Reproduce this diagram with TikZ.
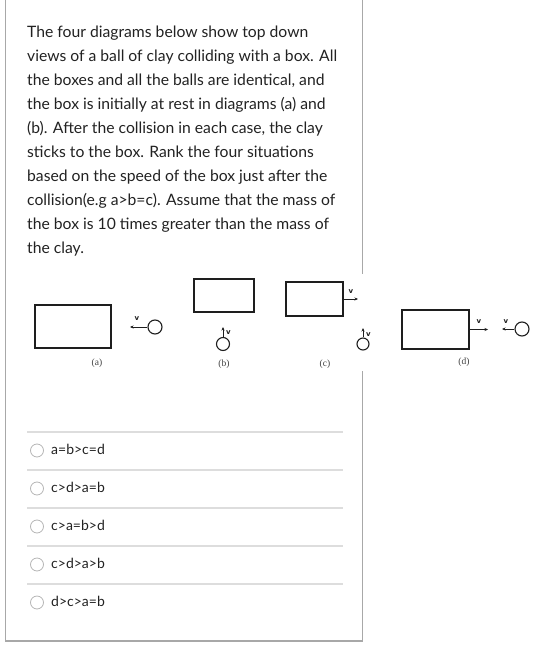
\documentclass[tikz,border=0pt]{standalone}
\usepackage{fontspec}
\setmainfont{Lato}
\newfontfamily\serifcap{Liberation Serif}
\newfontfamily\vfont{DejaVu Sans}
\usetikzlibrary{arrows.meta}
\definecolor{textc}{HTML}{222222}
\definecolor{ink}{HTML}{1E1E1E}
\definecolor{sepc}{HTML}{DDDDDD}
\definecolor{radioc}{HTML}{B5B5B5}
\definecolor{framec}{HTML}{A8A8A8}
\begin{document}
\begin{tikzpicture}[x=1pt,y=-1pt,
  txt/.style={anchor=base west,inner sep=0,text=textc,font=\fontsize{15.7}{18}\selectfont},
  opt/.style={anchor=base west,inner sep=0,text=textc,font=\fontsize{14}{16}\selectfont},
  radio/.style={circle,draw=radioc,line width=0.8pt,minimum size=13pt,inner sep=0},
  sep/.style={draw=sepc,line width=1.5pt},
  box/.style={draw=ink,line width=1.3pt,inner sep=0,rectangle},
  ball/.style={circle,draw=ink,line width=1.1pt,inner sep=0},
  vel/.style={draw=ink,line width=0.9pt,-{Stealth[length=3.5pt,width=3pt]}},
  vlab/.style={inner sep=0,font=\vfont\bfseries\fontsize{7}{8}\selectfont,text=ink},
  figcap/.style={inner sep=0,font=\serifcap\fontsize{9.5}{10}\selectfont,text=ink!85}
]
\useasboundingbox (0,0) rectangle (535,647);
% frame
\draw[draw=framec,line width=1.5pt] (5.5,-2) -- (5.5,641) -- (362.5,641) -- (362.5,-2);
% question text
\node[txt] (l1) at (27,38) {The four diagrams below show top down};
\node[txt] (l2) at (27,61.9) {views of a ball of clay colliding with a box. All};
\node[txt] (l3) at (27,85.8) {the boxes and all the balls are identical, and};
\node[txt] (l4) at (27,109.7) {the box is initially at rest in diagrams (a) and};
\node[txt] (l5) at (27,133.6) {(b). After the collision in each case, the clay};
\node[txt] (l6) at (27,157.5) {sticks to the box. Rank the four situations};
\node[txt] (l7) at (27,181.4) {based on the speed of the box just after the};
\node[txt] (l8) at (27,205.3) {collision(e.g a>b=c). Assume that the mass of};
\node[txt] (l9) at (27,229.2) {the box is 10 times greater than the mass of};
\node[txt] (l10) at (27,253.1) {the clay.};
% image area
\fill[white] (24,274) rectangle (535,371);
% (a)
\node[box,minimum width=76pt,minimum height=43pt] (boxA) at (73,326.5) {};
\node[ball,minimum size=14pt] (ballA) at (155,327) {};
\coordinate (tipA) at (130,327);
\draw[vel] (ballA.west) -- (tipA);
\node[vlab] (vA) at (137,318.5) {v};
\node[figcap] (capA) at (97,363) {(a)};
% (b)
\node[box,minimum width=60pt,minimum height=33pt] (boxB) at (224,295.5) {};
\node[ball,minimum size=13pt] (ballB) at (223,344) {};
\coordinate (tipB) at (223,327);
\draw[vel] (ballB.north) -- (tipB);
\node[vlab] (vB) at (228.5,332.5) {v};
\node[figcap] (capB) at (224,364) {(b)};
% (c)
\node[box,minimum width=57pt,minimum height=34pt] (boxC) at (314.5,299) {};
\coordinate (tipCb) at (358,299);
\draw[vel] (boxC.east) -- (tipCb);
\node[vlab] (vCb) at (351,291.5) {v};
\node[ball,minimum size=12pt] (ballC) at (363,344) {};
\coordinate (tipC) at (363,328);
\draw[vel] (ballC.north) -- (tipC);
\node[vlab] (vC) at (368.5,335) {v};
\node[figcap] (capC) at (325,364) {(c)};
% (d)
\node[box,minimum width=67pt,minimum height=39pt] (boxD) at (435.5,329.5) {};
\coordinate (tipDb) at (488,329.5);
\draw[vel] (boxD.east) -- (tipDb);
\node[vlab] (vDb) at (479,322) {v};
\node[ball,minimum size=14pt] (ballD) at (522,329) {};
\coordinate (tipD) at (502,329);
\draw[vel] (ballD.west) -- (tipD);
\node[vlab] (vD) at (506,322) {v};
\node[figcap] (capD) at (464,362) {(d)};
% options
\foreach \y in {432,470,508,546,584} \draw[sep] (27,\y) -- (343,\y);
\node[radio] (r1) at (37,450.5) {};
\node[opt] (o1) at (51,454) {a=b>c=d};
\node[radio] (r2) at (37,488.5) {};
\node[opt] (o2) at (51,492) {c>d>a=b};
\node[radio] (r3) at (37,526.5) {};
\node[opt] (o3) at (51,530) {c>a=b>d};
\node[radio] (r4) at (37,564.5) {};
\node[opt] (o4) at (51,568) {c>d>a>b};
\node[radio] (r5) at (37,602.5) {};
\node[opt] (o5) at (51,606) {d>c>a=b};
\end{tikzpicture}
\end{document}
